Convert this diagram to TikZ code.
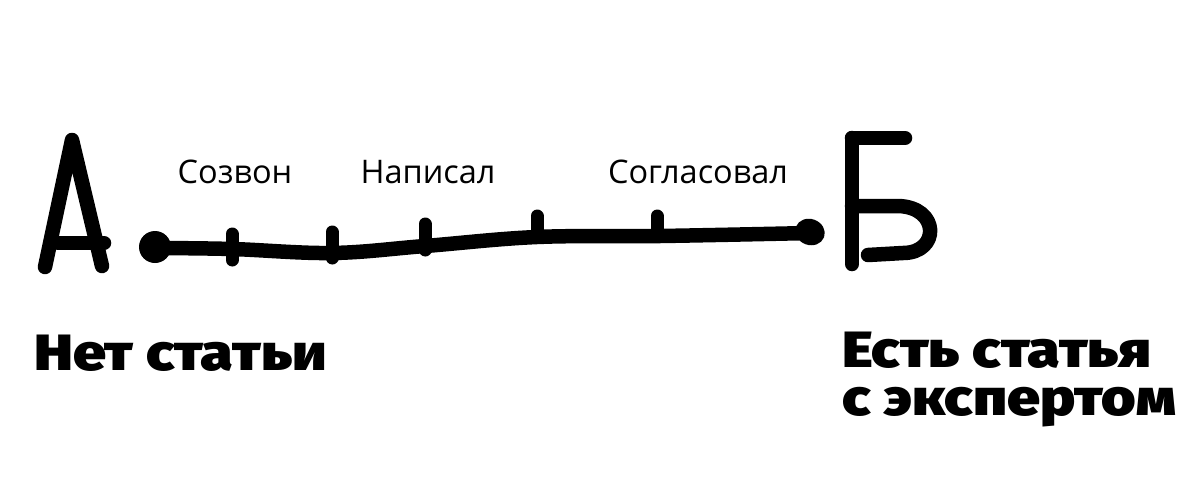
\documentclass[tikz,border=0pt]{standalone}
\usepackage{fontspec}
\setmainfont{Open Sans}
\newfontfamily\heavyfont{Fira Sans Black}[FakeStretch=1.16]
\newfontfamily\labelfont{Open Sans}
\begin{document}
\begin{tikzpicture}[x=1pt,y=-1pt,
  ink/.style={line width=14.5pt,line cap=round,line join=round},
  tick/.style={line width=13pt,line cap=round},
  lbl/.style={font=\labelfont\fontsize{32.5}{36}\selectfont,inner sep=0pt,anchor=base},
  big/.style={font=\heavyfont\fontsize{51}{48}\selectfont,inner sep=0pt,anchor=base west}]
\useasboundingbox[fill=white] (0,0) rectangle (1200,482);
% letter A
\draw[ink] (45,267) -- (72,140) -- (102,266);
\draw[ink] (58,243) -- (104,243);
% timeline
\draw[ink] plot[smooth,tension=0.6] coordinates {(155,248) (232,249) (332,253) (425,246) (537,237) (660,236) (810,233)};
\fill (155,247) circle[radius=16];
\fill[rotate around={-20:(810,232)}] (810,232) ellipse[x radius=15,y radius=13];
\draw[tick] (232,234) -- (232,260);
\draw[tick] (332,232) -- (332,258);
\draw[tick] (425,224) -- (425,250);
\draw[tick] (537,216) -- (537,236);
\draw[tick] (657,216) -- (657,236);
% letter B (Cyrillic Be)
\draw[ink] (852,138) -- (852,264);
\draw[ink] (852,138) -- (905,138);
\draw[ink] (852,206) -- (898,206) .. controls (940,207) and (940,253) .. (903,253) -- (868,255);
% labels
\node[lbl] (l1) at (235,183) {Созвон};
\node[lbl] (l2) at (428,183) {Написал};
\node[lbl] (l3) at (698,183) {Согласовал};
\node[big] (na) at (34,370) {Нет статьи};
\node[big] (nb) at (842,367) {Есть статья};
\node[big] (nc) at (842,415) {с экспертом};
\end{tikzpicture}
\end{document}
